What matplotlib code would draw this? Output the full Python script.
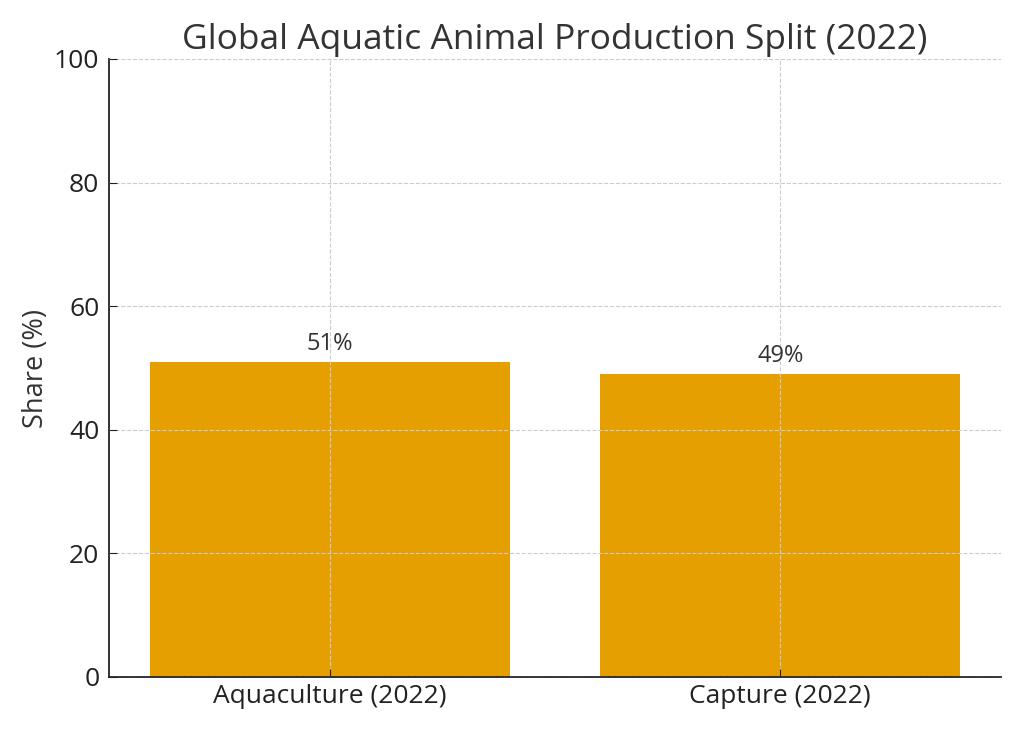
import matplotlib
matplotlib.use("Agg")
import matplotlib.pyplot as plt

categories = ["Aquaculture (2022)", "Capture (2022)"]
shares = [51, 49]
labels = ["51%", "49%"]

plt.rcParams['font.family'] = ['Open Sans', 'DejaVu Sans']

fig = plt.figure(figsize=(10.24, 7.31), dpi=100)
ax = fig.add_axes([109/1024, 1 - 677/731, (1001-109)/1024, (677-59)/731])

bars = ax.bar(range(len(categories)), shares, width=0.8, color="#E69F00", zorder=1)
for i, (v, lab) in enumerate(zip(shares, labels)):
    ax.text(i, v + 1.0, lab, ha="center", va="bottom", fontsize=17, color="#333333")

ax.set_ylim(0, 100)
ax.set_xticks(range(len(categories)))
ax.set_xticklabels(categories)
ax.set_yticks([0, 20, 40, 60, 80, 100])
ax.tick_params(direction="in", labelsize=19, colors="#222222", length=6)
ax.tick_params(axis="y", pad=7)
ax.tick_params(axis="x", pad=5)
ax.set_ylabel("Share (%)", fontsize=19.5, color="#333333", labelpad=3)
ax.set_title("Global Aquatic Animal Production Split (2022)", fontsize=25.5, color="#333333", pad=7)
ax.grid(True, linestyle="--", color="#cccccc", linewidth=0.8, zorder=3)
ax.set_axisbelow(False)
for s in ["top", "right"]:
    ax.spines[s].set_visible(False)
for s in ["left", "bottom"]:
    ax.spines[s].set_color("#222222")
    ax.spines[s].set_linewidth(1.3)

fig.savefig("out.png", dpi=100)
